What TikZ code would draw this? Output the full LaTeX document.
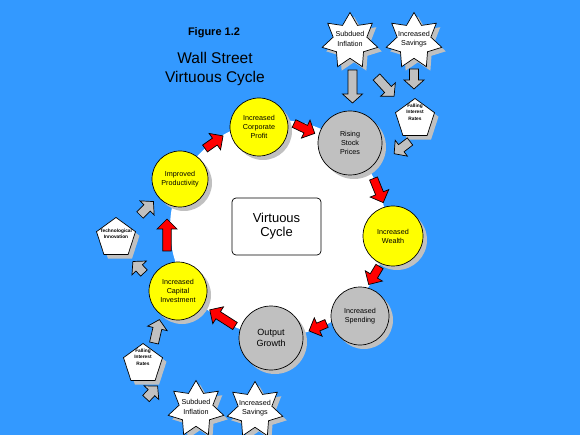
\documentclass[tikz,border=0pt]{standalone}
\usepackage{fontspec}
\setmainfont{Liberation Sans}
\usetikzlibrary{shapes.geometric,shadows}
\definecolor{bgblue}{RGB}{51,153,255}
\definecolor{lgray}{RGB}{192,192,192}
\definecolor{yel}{RGB}{255,255,0}
\definecolor{ared}{RGB}{255,0,0}
\newcommand\blockarr[8]{%
  \begin{scope}[shift={(#1,#2)},rotate=#3]
    \filldraw[#8] (0,-#5) -- ({#4-#7},-#5) -- ({#4-#7},-#6) -- (#4,0) -- ({#4-#7},#6) -- ({#4-#7},#5) -- (0,#5) -- cycle;
  \end{scope}}
\newcommand\grayarr[4]{\blockarr{#1}{#2}{#3}{#4}{4.5}{10}{9}{grayfill}}
\newcommand\redarr[4]{\blockarr{#1}{#2}{#3}{#4}{4.2}{10}{10}{redfill}}
\tikzset{
  outline/.style={draw=black, line width=0.7pt},
  shad/.style={drop shadow={fill=lgray, opacity=1, shadow xshift=4pt, shadow yshift=-4pt}},
  bubble/.style={circle, outline, shad, inner sep=0pt, align=center, font=\fontsize{7.2}{9}\selectfont},
  yb/.style={bubble, fill=yel},
  gb/.style={bubble, fill=lgray},
  burst/.style={star, star points=7, star point ratio=1.65, minimum size=57pt, inner sep=0pt,
    fill=white, outline, shad},
  stext/.style={align=center, inner sep=0pt, font=\fontsize{7.2}{9.3}\selectfont},
  pent/.style={regular polygon, regular polygon sides=5, minimum size=41pt, inner sep=0pt,
    fill=white, outline, shad},
  ptext/.style={align=center, inner sep=0pt, font=\bfseries\fontsize{4.8}{6.5}\selectfont},
  grayfill/.style={outline, fill=lgray},
  redfill/.style={outline, fill=ared},
}
\begin{document}
\begin{tikzpicture}[x=1pt,y=-1pt]
\useasboundingbox (0,0) rectangle (580,435);
\fill[bgblue] (0,0) rectangle (580,435);
% white blob
\fill[white] (278,228) circle (108);
% titles
\node[font=\bfseries\fontsize{11}{13}\selectfont] (fig) at (214,33) {Figure 1.2};
\node[align=center, font=\fontsize{15.5}{19.5}\selectfont] (title) at (215,69) {Wall Street\\Virtuous Cycle};
% centre box
\node[outline, rounded corners=4pt, fill=white, minimum width=89pt, minimum height=57pt,
  align=center, font=\fontsize{13}{14}\selectfont] (vc) at (276.5,226.5) {Virtuous\\Cycle};
% cycle nodes
\node[yb, minimum size=58pt] (profit) at (259,127) {Increased\\Corporate\\Profit};
\node[gb, minimum size=64pt] (rising) at (350,143) {Rising\\Stock\\Prices};
\node[yb, minimum size=60pt] (wealth) at (393,236) {Increased\\Wealth};
\node[gb, minimum size=58pt] (spending) at (360,316) {Increased\\Spending};
\node[gb, minimum size=64pt, font=\fontsize{9}{11}\selectfont] (output) at (271,338) {Output\\Growth};
\node[yb, minimum size=58pt] (capital) at (178,291) {Increased\\Capital\\Investment};
\node[yb, minimum size=56pt] (product) at (180,179) {Improved\\Productivity};
% stars
\node[burst] (sub1) at (350,41) {};
\node[stext] (sub1t) at (350,39) {Subdued\\Inflation};
\node[burst] (sav1) at (414,41) {};
\node[stext] (sav1t) at (414,39) {Increased\\Savings};
\node[burst] (sub2) at (196,409) {};
\node[stext] (sub2t) at (196,407) {Subdued\\Inflation};
\node[burst] (sav2) at (255,410) {};
\node[stext] (sav2t) at (255,408) {Increased\\Savings};
% pentagons
\node[pent] (fir1) at (415,119) {};
\node[ptext] (fir1t) at (415,112) {Falling\\Interest\\Rates};
\node[pent] (tech) at (116,238) {};
\node[ptext] (techt) at (116,234) {Technological\\Innovation};
\node[pent] (fir2) at (143,364) {};
\node[ptext] (fir2t) at (143,357) {Falling\\Interest\\Rates};
% gray arrows
\grayarr{352.5}{70}{-90}{33}
\grayarr{376.5}{77}{-47.5}{26}
\grayarr{414}{69}{-90}{20}
\grayarr{410}{141.5}{217.6}{20}
\grayarr{140}{215}{45}{19}
\grayarr{144}{273}{134}{16}
\grayarr{154}{343}{77}{24}
\grayarr{146}{398.5}{47}{17}
% red arrows
\redarr{205}{148.5}{35}{22}
\redarr{294}{123.5}{-25.5}{23}
\redarr{373.5}{178.5}{-68}{26}
\redarr{379.5}{266.5}{-121}{21}
\redarr{326.5}{323.5}{203}{19}
\redarr{235}{326}{147.4}{30}
\redarr{167}{251}{90}{32}
\end{tikzpicture}
\end{document}
